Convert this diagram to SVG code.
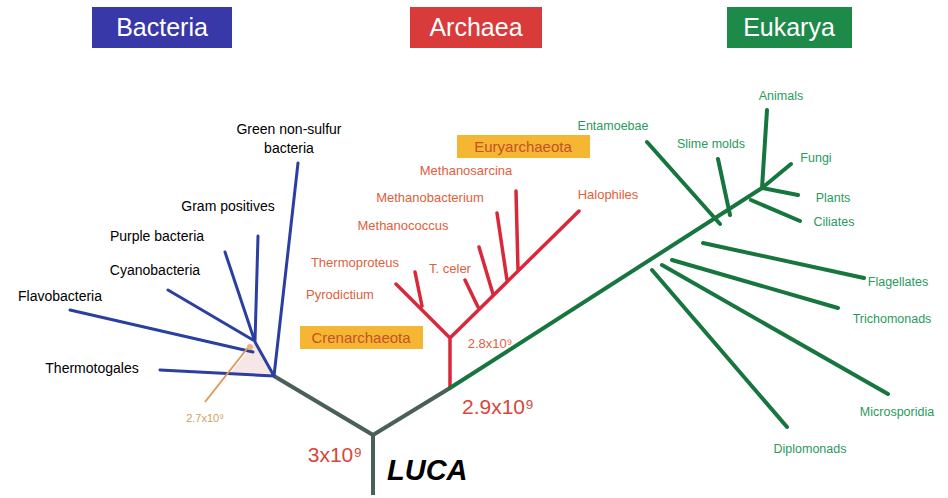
<svg xmlns="http://www.w3.org/2000/svg" width="948" height="498" viewBox="0 0 948 498">
<style>
text{font-family:"Liberation Sans",Arial,sans-serif}
.hd{fill:#fff;font-size:25px;text-anchor:middle}
.bl{fill:#000;font-size:14px;text-anchor:middle}
.al{fill:#e0603c;font-size:13px;text-anchor:middle}
.el{fill:#2a9a5e;font-size:12.5px;text-anchor:middle}
.b{stroke:#2a3fa0;stroke-width:3;fill:none;stroke-linecap:round}
.a{stroke:#d8283a;stroke-width:3.5;fill:none;stroke-linecap:round}
.e{stroke:#16763e;stroke-width:4;fill:none;stroke-linecap:round}
.g{stroke:#4a5f58;stroke-width:4;fill:none}
.tag{fill:#f5b633}
.tt{fill:#c8502a;font-size:15px;text-anchor:middle}
</style>
<rect width="948" height="498" fill="#fff"/>
<g id="headers">
<rect x="92" y="7" width="140" height="41" fill="#3838a8"/><text class="hd" x="162" y="36">Bacteria</text>
<rect x="410" y="7" width="132" height="41" fill="#d93a3a"/><text class="hd" x="476" y="36">Archaea</text>
<rect x="727" y="7" width="125" height="41" fill="#1e8a4a"/><text class="hd" x="789" y="36">Eukarya</text>
</g>
<g id="connectors">
<path class="g" d="M373,495 L373,435 L274,376 M373,435 L450,388"/>
<polygon points="255,342 274,376 230,374" fill="#f6e6e6"/>
<path class="b" d="M274,376 L298,163 M274,376 L255,342 L258,236 M255,342 L225,252 M253,340 L168,290 M253,352 L70,310 M274,376 L160,370"/>
<path d="M205,402 L250,345" stroke="#e0995a" stroke-width="2"/>
<circle cx="250" cy="347" r="3" fill="#e8b080"/>
<path class="a" d="M450,388 L450,338 L396,284 M422,306 L415,272 M450,338 L579,211 M478,307 L465,280 M493,294 L479,247 M507,280 L497,213 M518,270 L516,191"/>
<path class="e" d="M450,388 L762,188 M652,270 L787,427 M662,265 L888,394 M672,260 L838,308 M703,243 L864,278 M720,224 L647,142 M730,215 L718,159 M751,200 L800,221 M762,188 L798,195 M762,188 L791,164 M762,188 L767,110"/>
</g>
<g id="bacteria-labels">
<text class="bl" x="289" y="134">Green non-sulfur</text>
<text class="bl" x="289" y="153">bacteria</text>
<text class="bl" x="228" y="211">Gram positives</text>
<text class="bl" x="157" y="241">Purple bacteria</text>
<text class="bl" x="155" y="275">Cyanobacteria</text>
<text class="bl" x="60" y="301">Flavobacteria</text>
<text class="bl" x="92" y="373">Thermotogales</text>
<text x="205" y="422" fill="#d0a060" font-size="11" text-anchor="middle">2.7x10⁹</text>
</g>
<g id="archaea-labels">
<rect class="tag" x="457" y="135" width="133" height="23"/><text class="tt" x="523" y="152">Euryarchaeota</text>
<rect class="tag" x="300" y="326" width="123" height="23"/><text class="tt" x="361" y="343">Crenarchaeota</text>
<text class="al" x="466" y="175">Methanosarcina</text>
<text class="al" x="430" y="202">Methanobacterium</text>
<text class="al" x="403" y="230">Methanococcus</text>
<text class="al" x="355" y="267">Thermoproteus</text>
<text class="al" x="450" y="273">T. celer</text>
<text class="al" x="340" y="299">Pyrodictium</text>
<text class="al" x="608" y="199">Halophiles</text>
<text class="al" x="490" y="348" font-size="11">2.8x10⁹</text>
</g>
<g id="eukarya-labels">
<text class="el" x="613" y="130">Entamoebae</text>
<text class="el" x="711" y="148">Slime molds</text>
<text class="el" x="781" y="100">Animals</text>
<text class="el" x="816" y="162">Fungi</text>
<text class="el" x="833" y="202">Plants</text>
<text class="el" x="834" y="226">Ciliates</text>
<text class="el" x="898" y="286">Flagellates</text>
<text class="el" x="892" y="323">Trichomonads</text>
<text class="el" x="897" y="416">Microsporidia</text>
<text class="el" x="810" y="453">Diplomonads</text>
</g>
<g id="luca">
<text x="335" y="462" fill="#d9463a" font-size="21" text-anchor="middle">3x10⁹</text>
<text x="498" y="414" fill="#d9463a" font-size="21" text-anchor="middle">2.9x10⁹</text>
<text x="387" y="480" fill="#000" font-size="29" font-weight="bold" font-style="italic">LUCA</text>
</g>
</svg>
